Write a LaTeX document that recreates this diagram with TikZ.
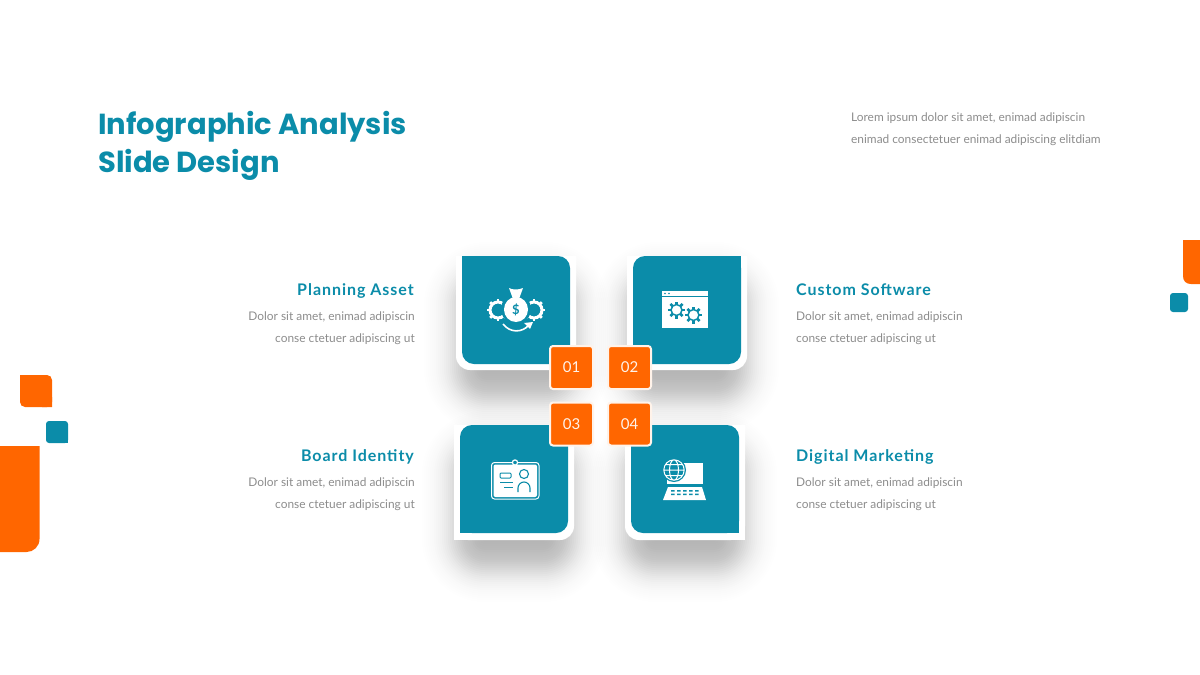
\documentclass[tikz,border=0pt]{standalone}
\usepackage{fontspec}
\setmainfont{Lato}
\newfontfamily\headfont[LetterSpace=6]{Lato}
\newfontfamily\titlefont{Poppins}
\usetikzlibrary{matrix}
\definecolor{tealtile}{HTML}{0B8CA9}
\definecolor{orangetile}{HTML}{FF6600}
\definecolor{bodygray}{HTML}{8C8C8C}
\definecolor{badgeline}{HTML}{FFF3EA}

% soft shadow under a tile: x1 y1 x2 y2
\newcommand{\tileshadow}[4]{
  \foreach \r [evaluate=\r as \w using {0.017*exp(0-(\r)*(\r)/676)},
    evaluate=\r as \c using {max(\r+25,3)}] in {-46,-44,...,56}
  \fill [black,opacity=\w,rounded corners=\c pt]
  (#1+6-\r,#2+24-\r) rectangle (#3-6+\r,#4+24+\r);
}
% small cog: x y radius colour ring width
\newcommand{\gearmark}[5]{
  \foreach \a in {0,45,...,315}
  \draw [#4,line width=2.8pt] (#1,#2) ++(\a:#3-1) -- ++(\a:3);
  \draw [#4,line width=#5] (#1,#2) circle [radius=#3-1];
}

\begin{document}
\begin{tikzpicture} [
    x=1pt,y=-1pt,
    sidetile/.style={fill=tealtile},
    rim/.style={fill=white},
    badge/.style={rectangle,draw=badgeline,line width=2pt,fill=orangetile,
      rounded corners=3pt,minimum size=43pt,inner sep=0pt,text=badgeline,
      font=\fontsize{15}{15}\selectfont},
    title/.style={anchor=base west,inner sep=0pt,text=tealtile,
      font=\fontsize{29}{29}\titlefont\bfseries\selectfont},
    headl/.style={anchor=base east,inner sep=0pt,text=tealtile,
      font=\fontsize{16}{16}\headfont\bfseries\selectfont},
    headr/.style={headl,anchor=base west},
    bodyl/.style={anchor=east,inner sep=0pt,align=right,text=bodygray,
      font=\fontsize{11.9}{22}\selectfont},
    bodyr/.style={bodyl,anchor=west,align=left},
    ]
    \useasboundingbox (0,0) rectangle (1200,675);

    % Corner marks
    \fill [orangetile] (0,446) -- (39.5,446) -- (39.5,539) .. controls (39.5,546.5) and (33.5,552) .. (26.5,552) -- (0,552) -- cycle;
    \fill [orangetile,rounded corners=5pt] (20,375) rectangle (52,407);
    \fill [orangetile] (20,375) rectangle (30,385) (42,397) rectangle (52,407);
    \fill [sidetile,rounded corners=3pt] (46,421) rectangle (68,443);
    \fill [sidetile] (60,435) rectangle (68,443);
    \fill [orangetile] (1183,240) -- (1200,240) -- (1200,284) -- (1191,284) .. controls (1186,284) and (1183,281) .. (1183,276) -- cycle;
    \fill [sidetile,rounded corners=3pt] (1170,293) rectangle (1188,312);

    % Heading
    \node [title] (head1) at (98,134) {Infographic Analysis};
    \node [title] (head2) at (98,172) {Slide Design};
    \node [bodyr] (intro) at (851,129) {Lorem ipsum dolor sit amet, enimad adipiscin\\
      enimad consectetuer enimad adipiscing elitdiam};

    % Shadows
    \tileshadow{456}{256}{576}{370}
    \tileshadow{627}{256}{747}{370}
    \tileshadow{454}{425}{574}{540}
    \tileshadow{625}{425}{745}{540}

    % First tile
    \begin{scope}
      \clip (440,256) rectangle (760,380);
      \fill [rim,rounded corners=14pt] (456,240) rectangle (576,370);
    \end{scope}
    \fill [sidetile,rounded corners=12pt] (462,256) rectangle (570,364);
    \fill [sidetile] (462,256) rectangle (480,280);
    % Second tile
    \begin{scope}
      \clip (440,256) rectangle (760,380);
      \fill [rim,rounded corners=14pt] (627,240) rectangle (747,370);
    \end{scope}
    \fill [sidetile,rounded corners=12pt] (633,256) rectangle (741,364);
    \fill [sidetile] (720,256) rectangle (741,280);
    % Third tile
    \begin{scope}
      \clip (440,425) rectangle (760,550);
      \fill [rim,rounded corners=14pt] (454,411) rectangle (574,540);
      \fill [rim] (454,520) rectangle (480,540);
    \end{scope}
    \fill [sidetile,rounded corners=12pt] (460,425) rectangle (568,533);
    \fill [sidetile] (460,510) rectangle (480,533);
    % Fourth tile
    \begin{scope}
      \clip (440,425) rectangle (760,550);
      \fill [rim,rounded corners=14pt] (625,411) rectangle (745,540);
      \fill [rim] (720,520) rectangle (745,540);
    \end{scope}
    \fill [sidetile,rounded corners=12pt] (631,425) rectangle (739,533);
    \fill [sidetile] (715,510) rectangle (739,533);

    % Money bag
    \gearmark{498}{310}{9}{white}{3pt}
    \gearmark{534}{310}{9}{white}{3pt}
    \fill [tealtile] (516,309) circle [radius=15];
    \fill [white] (516,309.5) ellipse [x radius=12,y radius=12.5];
    \fill [white] (509,288) .. controls (512,290) and (519,290) .. (523,288) -- (519,299) -- (513,299) -- cycle;
    \node [inner sep=0pt,text=tealtile,font=\fontsize{13}{13}\bfseries\selectfont] (dollar) at (516,310) {\$};
    \draw [white,line width=1.6pt] (503,324) .. controls (510,333) and (522,333) .. (529,325);
    \fill [white] (533,322) -- (524,323) -- (530,329) -- cycle;

    % Window with cogs
    \fill [white] (662,291) rectangle (708,328);
    \draw [tealtile,line width=0.8pt] (662,296) -- (708,296);
    \fill [tealtile] (665,293.5) circle [radius=0.9] (669,293.5) circle [radius=0.9];
    \gearmark{676.5}{310}{6.5}{tealtile}{1.5pt}
    \gearmark{693.5}{315}{6.5}{tealtile}{1.5pt}

    % Badge card
    \draw [white,line width=1pt,rounded corners=3pt] (491.5,462.5) rectangle (539,499);
    \fill [white,rounded corners=2pt] (493.5,464.5) rectangle (537,497);
    \draw [white,fill=tealtile,line width=1.2pt] (515,462.5) circle [radius=2.6];
    \draw [tealtile,line width=1pt,rounded corners=1pt] (500,473) rectangle (511,478);
    \draw [tealtile,line width=1pt] (500,482) -- (513,482) (504,487.5) -- (513,487.5);
    \draw [tealtile,line width=1.1pt] (524,474) circle [radius=4.5];
    \draw [tealtile,line width=1.1pt] (518,492) -- (518,488) arc [start angle=180,end angle=360,x radius=6,y radius=6] -- (530,492);

    % Laptop with globe
    \fill [white] (667,463) rectangle (703,484);
    \fill [white] (668,487) -- (702,487) -- (706,500) -- (663,500) -- cycle;
    \foreach \kx in {671,677,683,689,695}
    \fill [tealtile] (\kx,490) rectangle +(3.5,1.5) (\kx,493.5) rectangle +(3.5,1.5);
    \fill [tealtile] (674,470) circle [radius=12];
    \draw [white,line width=1pt] (674,470) circle [radius=10.2] ellipse [x radius=4.5,y radius=10.2]
    (664,470) -- (684,470) (665.5,464.5) -- (682.5,464.5) (665.5,475.5) -- (682.5,475.5);

    % Number badges
    \matrix [
    matrix of nodes,
    ampersand replacement=\&,
    row sep=11.5pt,
    column sep=13pt,
    inner sep=0pt,
    ] (badges) at (600.5,395.75) {
      % First row
      |[badge] (one)| 01 \& |[badge] (two)| 02 \\
      % Second row
      |[badge] (three)| 03 \& |[badge] (four)| 04 \\
    };

    % Left texts
    \node [headl] (plan) at (414,295) {Planning Asset};
    \node [bodyl] (plantext) at (415,328) {Dolor sit amet, enimad adipiscin\\conse ctetuer adipiscing ut};
    \node [headl] (board) at (414,461) {Board Identity};
    \node [bodyl] (boardtext) at (415,494) {Dolor sit amet, enimad adipiscin\\conse ctetuer adipiscing ut};
    % Right texts
    \node [headr] (soft) at (796,295) {Custom Software};
    \node [bodyr] (softtext) at (796,328) {Dolor sit amet, enimad adipiscin\\conse ctetuer adipiscing ut};
    \node [headr] (market) at (796,461) {Digital Marketing};
    \node [bodyr] (markettext) at (796,494) {Dolor sit amet, enimad adipiscin\\conse ctetuer adipiscing ut};
  \end{tikzpicture}
\end{document}
